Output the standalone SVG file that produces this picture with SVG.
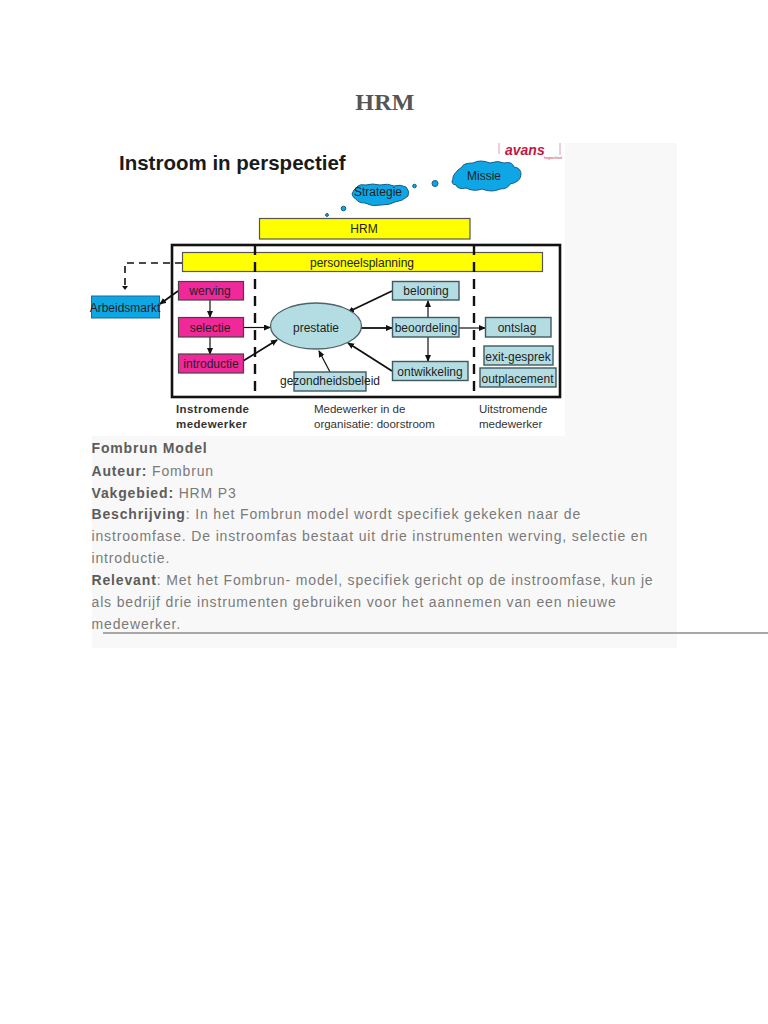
<svg xmlns="http://www.w3.org/2000/svg" width="768" height="1024" viewBox="0 0 768 1024">
<defs>
<marker id="ah" markerWidth="8" markerHeight="8" refX="6" refY="3" orient="auto" markerUnits="userSpaceOnUse"><path d="M0 0L7 3L0 6Z" fill="#111"/></marker>
</defs>
<style>
.s{font-family:"Liberation Sans",Arial,sans-serif}
.body{font-family:"Liberation Sans",Arial,sans-serif;font-size:14px;letter-spacing:.85px;fill:#7a7a7a}
.body b{font-weight:bold}
.bb{font-weight:bold;fill:#5c5c5c}
.y{fill:#ffff00;stroke:#555;stroke-width:1.2}
.p{fill:#f0289a;stroke:#444;stroke-width:1.2}
.t{fill:#b4dde3;stroke:#3e5a60;stroke-width:1.4}
.bl{fill:#0fa6e6;stroke:#1c6d94;stroke-width:1}
.c{fill:#0fa6e6;stroke:#1c5d84;stroke-width:1}
.l{font-family:"Liberation Sans",Arial,sans-serif;font-size:12px;fill:#222;text-anchor:middle}
.cap{font-family:"Liberation Sans",Arial,sans-serif;font-size:11.5px;fill:#333}
.a{fill:none;stroke:#111;stroke-width:1.2;marker-end:url(#ah)}
.a2{fill:none;stroke:#111;stroke-width:1.8;marker-end:url(#ah)}
.dash{fill:none;stroke:#111;stroke-width:2.4;stroke-dasharray:10 7}
</style>
<rect width="768" height="1024" fill="#fff"/>
<rect x="92" y="143" width="585" height="505" fill="#f8f8f8"/>
<rect x="92" y="143" width="473" height="293" fill="#fff"/>
<text x="385" y="110" text-anchor="middle" font-family="Liberation Serif,Times New Roman,serif" font-size="24" font-weight="bold" fill="#555" letter-spacing=".3">HRM</text>
<text x="119" y="170" class="s" font-size="20.5" font-weight="bold" fill="#1a1a1a">Instroom in perspectief</text>
<g id="logo">
<path d="M499 143V154M560 143V155" stroke="#d9a0ad" stroke-width="1"/>
<text x="505" y="155" class="s" font-size="14" font-weight="bold" font-style="italic" fill="#c2183f">avans</text>
<text x="553" y="159" class="s" font-size="3.5" text-anchor="middle" fill="#c2183f">hogeschool</text>
</g>
<g id="missie">
<path class="c" d="M458 170Q452 176 453 179Q450 184 456 185Q458 190 466 188Q474 192 482 189Q492 193 500 189Q508 189 510 184Q521 182 521 174Q521 168 514 167Q512 161 504 163Q498 160 490 163Q480 159 473 163Q463 163 462 167Z"/>
<text x="484" y="180" class="l" fill="#123">Missie</text>
</g>
<g id="strategie">
<path class="c" d="M358 186Q353 190 352 194Q353 198 356 199Q358 203 365 203Q372 207 381 205Q390 205 395 202Q403 201 408 196Q410 191 406 187Q400 184 394 186Q388 183 380 185Q372 183 366 185Q360 184 358 186Z"/>
<text x="378" y="196" class="l" fill="#123">Strategie</text>
</g>
<g id="bubbles">
<circle cx="435" cy="183.500" r="3" class="c"/><circle cx="414.500" cy="186" r="1.800" class="c"/><circle cx="343.500" cy="208.500" r="2.300" class="c"/><circle cx="327" cy="215" r="1.400" class="c"/>
</g>
<g id="hrm"><rect x="259.500" y="218.500" width="210.500" height="20.500" class="y"/><text x="364" y="233" class="l">HRM</text></g>
<rect x="172" y="245" width="388" height="152" fill="none" stroke="#111" stroke-width="2.600"/>
<g id="personeelsplanning"><rect x="182.500" y="252.500" width="360" height="19" class="y"/><text x="362" y="267" class="l" font-size="14.500">personeelsplanning</text></g>
<g id="connectors">
<path class="dash" d="M255 245V397M474 245V397"/>
<path d="M182 263H125V285" fill="none" stroke="#111" stroke-width="1.600" stroke-dasharray="7 5"/>
<path d="M122 286h6l-3 4z" fill="#111"/>
<path class="a2" d="M178 291L160 304"/>
<path class="a" d="M210 300V317"/>
<path class="a" d="M210 337V354"/>
<path class="a" d="M243 327.500H270"/>
<path class="a2" d="M243 361L277 340"/>
<path class="a" d="M330 372L319 351"/>
<path class="a2" d="M392 291L348 312"/>
<path class="a2" d="M392 371L348 343"/>
<path class="a2" d="M360 328H392"/>
<path class="a" d="M428 317V301"/>
<path class="a" d="M428 337V361"/>
<path class="a" d="M459 328H485"/>
</g>
<g id="arbeidsmarkt"><rect x="91.500" y="296" width="68" height="22" class="bl"/><text x="125" y="312" class="l" font-size="12.500" fill="#123">Arbeidsmarkt</text></g>
<g id="werving"><rect x="178.500" y="281.500" width="65" height="18.500" class="p"/><text x="210" y="295" class="l">werving</text></g>
<g id="selectie"><rect x="178.500" y="317.500" width="65" height="19.500" class="p"/><text x="210" y="332" class="l">selectie</text></g>
<g id="introductie"><rect x="178.500" y="354" width="65" height="19" class="p"/><text x="211" y="367.500" class="l" font-size="11.500">introductie</text></g>
<g id="prestatie"><ellipse cx="316" cy="326" rx="45.500" ry="23" fill="#b4dde3" stroke="#4d6468" stroke-width="1.300"/><text x="316" y="332" class="l" font-size="15.500">prestatie</text></g>
<g id="gezondheidsbeleid"><rect x="294" y="372" width="72" height="19" class="t"/><text x="330" y="385" class="l" font-size="8">gezondheidsbeleid</text></g>
<g id="beloning"><rect x="392.500" y="281.500" width="66.500" height="18.500" class="t"/><text x="426" y="295" class="l">beloning</text></g>
<g id="beoordeling"><rect x="392.500" y="317.500" width="66.500" height="19.500" class="t"/><text x="426" y="332" class="l">beoordeling</text></g>
<g id="ontwikkeling"><rect x="392.500" y="361.500" width="75.500" height="19" class="t"/><text x="430" y="375.500" class="l">ontwikkeling</text></g>
<g id="ontslag"><rect x="485.500" y="317.500" width="65.500" height="19.500" class="t"/><text x="517" y="332" class="l">ontslag</text></g>
<g id="exit-gesprek"><rect x="484" y="346" width="69" height="19" class="t"/><text x="518" y="361" class="l">exit-gesprek</text></g>
<g id="outplacement"><rect x="480" y="368" width="76" height="19" class="t"/><text x="517.500" y="383" class="l">outplacement</text></g>
<text class="cap" font-weight="bold" fill="#222" letter-spacing=".4"><tspan x="176" y="413">Instromende</tspan><tspan x="176" y="428">medewerker</tspan></text>
<text class="cap"><tspan x="314" y="413">Medewerker in de</tspan><tspan x="314" y="428">organisatie: doorstroom</tspan></text>
<text class="cap"><tspan x="479" y="413">Uitstromende</tspan><tspan x="479" y="428">medewerker</tspan></text>
<text class="body"><tspan x="91.500" y="453" class="bb">Fombrun Model</tspan></text>
<text class="body" x="91.500" y="476"><tspan class="bb">Auteur:</tspan> Fombrun</text>
<text class="body" x="91.500" y="498"><tspan class="bb">Vakgebied:</tspan> HRM P3</text>
<text class="body" x="91.500" y="519"><tspan class="bb">Beschrijving</tspan>: In het Fombrun model wordt specifiek gekeken naar de</text>
<text class="body" x="91.500" y="541">instroomfase. De instroomfas bestaat uit drie instrumenten werving, selectie en</text>
<text class="body" x="91.500" y="563">introductie.</text>
<text class="body" x="91.500" y="585"><tspan class="bb">Relevant</tspan>:  Met het Fombrun- model, specifiek gericht op de instroomfase, kun je</text>
<text class="body" x="91.500" y="607">als bedrijf drie instrumenten gebruiken voor het aannemen van een nieuwe</text>
<text class="body" x="91.500" y="629">medewerker.</text>
<rect x="103" y="632" width="665" height="2" fill="#a8a8a8"/>
</svg>
